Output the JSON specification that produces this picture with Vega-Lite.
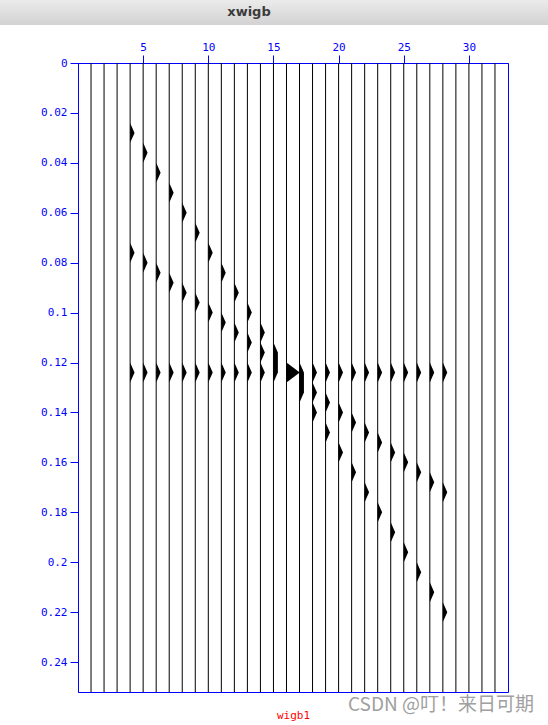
{
  "$schema": "https://vega.github.io/schema/vega-lite/v6.json",
  "padding": 0,
  "background": "white",
  "spacing": 15,
  "config": {"view": {"stroke": null}, "axis": {"grid": false}},
  "datasets": {
    "traces": [{"tr":1},{"tr":2},{"tr":3},{"tr":4},{"tr":5},{"tr":6},{"tr":7},{"tr":8},{"tr":9},{"tr":10},{"tr":11},{"tr":12},{"tr":13},{"tr":14},{"tr":15},{"tr":16},{"tr":17},{"tr":18},{"tr":19},{"tr":20},{"tr":21},{"tr":22},{"tr":23},{"tr":24},{"tr":25},{"tr":26},{"tr":27},{"tr":28},{"tr":29},{"tr":30},{"tr":31},{"tr":32}],
    "wiggles": [
      {"tr":4,"t":0.024,"w":4},{"tr":4,"t":0.028,"w":4.34},{"tr":4,"t":0.032,"w":4},{"tr":4,"t":0.072,"w":4},{"tr":4,"t":0.076,"w":4.34},{"tr":4,"t":0.08,"w":4},{"tr":4,"t":0.12,"w":4},{"tr":4,"t":0.124,"w":4.34},{"tr":4,"t":0.128,"w":4},
      {"tr":5,"t":0.032,"w":5},{"tr":5,"t":0.036,"w":5.34},{"tr":5,"t":0.04,"w":5},{"tr":5,"t":0.076,"w":5},{"tr":5,"t":0.08,"w":5.34},{"tr":5,"t":0.084,"w":5},{"tr":5,"t":0.12,"w":5},{"tr":5,"t":0.124,"w":5.34},{"tr":5,"t":0.128,"w":5},
      {"tr":6,"t":0.04,"w":6},{"tr":6,"t":0.044,"w":6.34},{"tr":6,"t":0.048,"w":6},{"tr":6,"t":0.08,"w":6},{"tr":6,"t":0.084,"w":6.34},{"tr":6,"t":0.088,"w":6},{"tr":6,"t":0.12,"w":6},{"tr":6,"t":0.124,"w":6.34},{"tr":6,"t":0.128,"w":6},
      {"tr":7,"t":0.048,"w":7},{"tr":7,"t":0.052,"w":7.34},{"tr":7,"t":0.056,"w":7},{"tr":7,"t":0.084,"w":7},{"tr":7,"t":0.088,"w":7.34},{"tr":7,"t":0.092,"w":7},{"tr":7,"t":0.12,"w":7},{"tr":7,"t":0.124,"w":7.34},{"tr":7,"t":0.128,"w":7},
      {"tr":8,"t":0.056,"w":8},{"tr":8,"t":0.06,"w":8.34},{"tr":8,"t":0.064,"w":8},{"tr":8,"t":0.088,"w":8},{"tr":8,"t":0.092,"w":8.34},{"tr":8,"t":0.096,"w":8},{"tr":8,"t":0.12,"w":8},{"tr":8,"t":0.124,"w":8.34},{"tr":8,"t":0.128,"w":8},
      {"tr":9,"t":0.064,"w":9},{"tr":9,"t":0.068,"w":9.34},{"tr":9,"t":0.072,"w":9},{"tr":9,"t":0.092,"w":9},{"tr":9,"t":0.096,"w":9.34},{"tr":9,"t":0.1,"w":9},{"tr":9,"t":0.12,"w":9},{"tr":9,"t":0.124,"w":9.34},{"tr":9,"t":0.128,"w":9},
      {"tr":10,"t":0.072,"w":10},{"tr":10,"t":0.076,"w":10.34},{"tr":10,"t":0.08,"w":10},{"tr":10,"t":0.096,"w":10},{"tr":10,"t":0.1,"w":10.34},{"tr":10,"t":0.104,"w":10},{"tr":10,"t":0.12,"w":10},{"tr":10,"t":0.124,"w":10.34},{"tr":10,"t":0.128,"w":10},
      {"tr":11,"t":0.08,"w":11},{"tr":11,"t":0.084,"w":11.34},{"tr":11,"t":0.088,"w":11},{"tr":11,"t":0.1,"w":11},{"tr":11,"t":0.104,"w":11.34},{"tr":11,"t":0.108,"w":11},{"tr":11,"t":0.12,"w":11},{"tr":11,"t":0.124,"w":11.34},{"tr":11,"t":0.128,"w":11},
      {"tr":12,"t":0.088,"w":12},{"tr":12,"t":0.092,"w":12.34},{"tr":12,"t":0.096,"w":12},{"tr":12,"t":0.104,"w":12},{"tr":12,"t":0.108,"w":12.34},{"tr":12,"t":0.112,"w":12},{"tr":12,"t":0.12,"w":12},{"tr":12,"t":0.124,"w":12.34},{"tr":12,"t":0.128,"w":12},
      {"tr":13,"t":0.096,"w":13},{"tr":13,"t":0.1,"w":13.34},{"tr":13,"t":0.104,"w":13},{"tr":13,"t":0.108,"w":13},{"tr":13,"t":0.112,"w":13.34},{"tr":13,"t":0.116,"w":13},{"tr":13,"t":0.12,"w":13},{"tr":13,"t":0.124,"w":13.34},{"tr":13,"t":0.128,"w":13},
      {"tr":14,"t":0.104,"w":14},{"tr":14,"t":0.108,"w":14.34},{"tr":14,"t":0.112,"w":14},{"tr":14,"t":0.116,"w":14.34},{"tr":14,"t":0.12,"w":14},{"tr":14,"t":0.124,"w":14.34},{"tr":14,"t":0.128,"w":14},
      {"tr":15,"t":0.112,"w":15},{"tr":15,"t":0.116,"w":15.34},{"tr":15,"t":0.12,"w":15.34},{"tr":15,"t":0.124,"w":15.34},{"tr":15,"t":0.128,"w":15},
      {"tr":16,"t":0.12,"w":16},{"tr":16,"t":0.124,"w":17.02},{"tr":16,"t":0.128,"w":16},
      {"tr":17,"t":0.12,"w":17},{"tr":17,"t":0.124,"w":17.34},{"tr":17,"t":0.128,"w":17.34},{"tr":17,"t":0.132,"w":17.34},{"tr":17,"t":0.136,"w":17},
      {"tr":18,"t":0.12,"w":18},{"tr":18,"t":0.124,"w":18.34},{"tr":18,"t":0.128,"w":18},{"tr":18,"t":0.132,"w":18.34},{"tr":18,"t":0.136,"w":18},{"tr":18,"t":0.14,"w":18.34},{"tr":18,"t":0.144,"w":18},
      {"tr":19,"t":0.12,"w":19},{"tr":19,"t":0.124,"w":19.34},{"tr":19,"t":0.128,"w":19},{"tr":19,"t":0.132,"w":19},{"tr":19,"t":0.136,"w":19.34},{"tr":19,"t":0.14,"w":19},{"tr":19,"t":0.144,"w":19},{"tr":19,"t":0.148,"w":19.34},{"tr":19,"t":0.152,"w":19},
      {"tr":20,"t":0.12,"w":20},{"tr":20,"t":0.124,"w":20.34},{"tr":20,"t":0.128,"w":20},{"tr":20,"t":0.136,"w":20},{"tr":20,"t":0.14,"w":20.34},{"tr":20,"t":0.144,"w":20},{"tr":20,"t":0.152,"w":20},{"tr":20,"t":0.156,"w":20.34},{"tr":20,"t":0.16,"w":20},
      {"tr":21,"t":0.12,"w":21},{"tr":21,"t":0.124,"w":21.34},{"tr":21,"t":0.128,"w":21},{"tr":21,"t":0.14,"w":21},{"tr":21,"t":0.144,"w":21.34},{"tr":21,"t":0.148,"w":21},{"tr":21,"t":0.16,"w":21},{"tr":21,"t":0.164,"w":21.34},{"tr":21,"t":0.168,"w":21},
      {"tr":22,"t":0.12,"w":22},{"tr":22,"t":0.124,"w":22.34},{"tr":22,"t":0.128,"w":22},{"tr":22,"t":0.144,"w":22},{"tr":22,"t":0.148,"w":22.34},{"tr":22,"t":0.152,"w":22},{"tr":22,"t":0.168,"w":22},{"tr":22,"t":0.172,"w":22.34},{"tr":22,"t":0.176,"w":22},
      {"tr":23,"t":0.12,"w":23},{"tr":23,"t":0.124,"w":23.34},{"tr":23,"t":0.128,"w":23},{"tr":23,"t":0.148,"w":23},{"tr":23,"t":0.152,"w":23.34},{"tr":23,"t":0.156,"w":23},{"tr":23,"t":0.176,"w":23},{"tr":23,"t":0.18,"w":23.34},{"tr":23,"t":0.184,"w":23},
      {"tr":24,"t":0.12,"w":24},{"tr":24,"t":0.124,"w":24.34},{"tr":24,"t":0.128,"w":24},{"tr":24,"t":0.152,"w":24},{"tr":24,"t":0.156,"w":24.34},{"tr":24,"t":0.16,"w":24},{"tr":24,"t":0.184,"w":24},{"tr":24,"t":0.188,"w":24.34},{"tr":24,"t":0.192,"w":24},
      {"tr":25,"t":0.12,"w":25},{"tr":25,"t":0.124,"w":25.34},{"tr":25,"t":0.128,"w":25},{"tr":25,"t":0.156,"w":25},{"tr":25,"t":0.16,"w":25.34},{"tr":25,"t":0.164,"w":25},{"tr":25,"t":0.192,"w":25},{"tr":25,"t":0.196,"w":25.34},{"tr":25,"t":0.2,"w":25},
      {"tr":26,"t":0.12,"w":26},{"tr":26,"t":0.124,"w":26.34},{"tr":26,"t":0.128,"w":26},{"tr":26,"t":0.16,"w":26},{"tr":26,"t":0.164,"w":26.34},{"tr":26,"t":0.168,"w":26},{"tr":26,"t":0.2,"w":26},{"tr":26,"t":0.204,"w":26.34},{"tr":26,"t":0.208,"w":26},
      {"tr":27,"t":0.12,"w":27},{"tr":27,"t":0.124,"w":27.34},{"tr":27,"t":0.128,"w":27},{"tr":27,"t":0.164,"w":27},{"tr":27,"t":0.168,"w":27.34},{"tr":27,"t":0.172,"w":27},{"tr":27,"t":0.208,"w":27},{"tr":27,"t":0.212,"w":27.34},{"tr":27,"t":0.216,"w":27},
      {"tr":28,"t":0.12,"w":28},{"tr":28,"t":0.124,"w":28.34},{"tr":28,"t":0.128,"w":28},{"tr":28,"t":0.168,"w":28},{"tr":28,"t":0.172,"w":28.34},{"tr":28,"t":0.176,"w":28},{"tr":28,"t":0.216,"w":28},{"tr":28,"t":0.22,"w":28.34},{"tr":28,"t":0.224,"w":28}
    ]
  },
  "vconcat": [
    {
      "width": 548,
      "height": 25,
      "data": {"values": [{"label": "xwigb"}]},
      "view": {"fill": "#dcdcdc", "stroke": null},
      "layer": [
        {
          "mark": {"type": "rect", "color": {"gradient": "linear", "x1": 0, "y1": 0, "x2": 0, "y2": 1, "stops": [{"offset": 0, "color": "#ebebeb"}, {"offset": 1, "color": "#d2d2d2"}]}},
          "encoding": {}
        },
        {
          "mark": {"type": "text", "font": "DejaVu Sans", "fontWeight": "bold", "fontSize": 13, "color": "#3c3c3c", "dx": -25, "dy": -1},
          "encoding": {"text": {"field": "label"}}
        }
      ]
    },
    {
      "spacing": 0,
      "hconcat": [
        {
          "width": 40,
          "height": 10,
          "data": {"values": []},
          "mark": "point",
          "encoding": {}
        },
        {
          "width": 430,
          "height": 629,
          "view": {"stroke": "#0000ff", "strokeWidth": 1},
          "title": {"text": "CSDN @叮！来日可期", "orient": "bottom", "anchor": "end", "offset": -24, "dx": 26, "font": "Noto Sans CJK SC", "fontSize": 19, "fontWeight": "normal", "color": "#a0a0a0"},
          "layer": [
            {
              "data": {"name": "traces"},
              "mark": {"type": "rule", "color": "black", "strokeWidth": 1},
              "encoding": {
                "x": {
                  "field": "tr", "type": "quantitative",
                  "scale": {"domain": [0, 33], "nice": false, "zero": false},
                  "axis": {"orient": "top", "values": [5, 10, 15, 20, 25, 30], "tickSize": 8, "labelPadding": 3, "domainColor": "#0000ff", "tickColor": "#0000ff", "labelColor": "#0000ff", "labelFont": "DejaVu Sans Mono", "labelFontSize": 11, "labelFlush": false, "title": null}
                }
              }
            },
            {
              "data": {"name": "wiggles"},
              "mark": {"type": "area", "orient": "horizontal", "color": "black"},
              "encoding": {
                "x": {
                  "field": "w", "type": "quantitative", "stack": null,
                  "axis": {"orient": "bottom", "labels": false, "ticks": false, "domain": false, "title": "wigb1", "titleColor": "#ff0000", "titleFont": "DejaVu Sans Mono", "titleFontSize": 11, "titleFontWeight": "normal", "titlePadding": 17}
                },
                "x2": {"field": "tr"},
                "y": {
                  "field": "t", "type": "quantitative",
                  "scale": {"domain": [0, 0.252], "nice": false, "zero": false, "reverse": true},
                  "axis": {"values": [0, 0.02, 0.04, 0.06, 0.08, 0.1, 0.12, 0.14, 0.16, 0.18, 0.2, 0.22, 0.24], "format": "~g", "tickSize": 8, "labelPadding": 3, "domainColor": "#0000ff", "tickColor": "#0000ff", "labelColor": "#0000ff", "labelFont": "DejaVu Sans Mono", "labelFontSize": 11, "labelFlush": false, "title": null}
                },
                "detail": {"field": "tr"}
              }
            }
          ],
          "resolve": {"axis": {"x": "independent"}}
        }
      ]
    }
  ]
}
